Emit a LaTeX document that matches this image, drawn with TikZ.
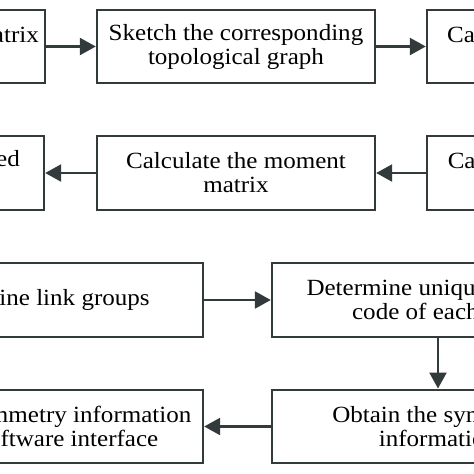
\documentclass[tikz,border=0pt]{standalone}
\usepackage{fontspec}
\setmainfont[FakeStretch=1.08]{Liberation Serif}
\usetikzlibrary{arrows.meta}
\definecolor{edge}{HTML}{333A3B}
\begin{document}
\begin{tikzpicture}[
    x=0.02cm, y=-0.02cm,
    box/.style={draw=edge, line width=1.4pt, rectangle, fill=white, minimum width=5.56cm, minimum height=1.47cm, align=center, font=\fontsize{13.2pt}{13.7pt}\selectfont},
    wbox/.style={box, minimum width=6.64cm},
    arrow/.style={-{Triangle[length=0.32cm, width=0.34cm]}, draw=edge, fill=edge, line width=1.4pt},
]
\useasboundingbox (0,0) rectangle (474,474);
\clip (0,0) rectangle (474,474);

% Row 1
\node[box] (adj) at (-95,46.5) {Input the adjacency matrix\\of kinematic chain};
\node[box] (sketch) at (236,46.5) {Sketch the corresponding\\topological graph};
\node[box] (degree) at (566,46.5) {Calculate the adjacency\\matrix};

% Row 2
\node[box] (sym) at (-95,173) {Symmetry is identified\\preliminarily};
\node[box] (moment) at (236,173) {Calculate the moment\\matrix};
\node[box] (laplace) at (566,173) {Calculate the Laplacian\\matrix};

% Row 3 and 4
\node[wbox] (groups) at (37,300) {Determine link groups};
\node[wbox] (code) at (438,300) {Determine unique identity\\code of each link};
\node[wbox] (display) at (37,426.5) {Display symmetry information\\in the software interface};
\node[wbox] (obtain) at (438,426.5) {Obtain the symmetry\\information};

% Connections
\draw[arrow] (adj) -- (sketch);
\draw[arrow] (sketch) -- (degree);
\draw[arrow] (laplace) -- (moment);
\draw[arrow] (moment) -- (sym);
\draw[arrow] (groups) -- (code);
\draw[arrow] (code) -- (obtain);
\draw[arrow] (obtain) -- (display);
\end{tikzpicture}
\end{document}
